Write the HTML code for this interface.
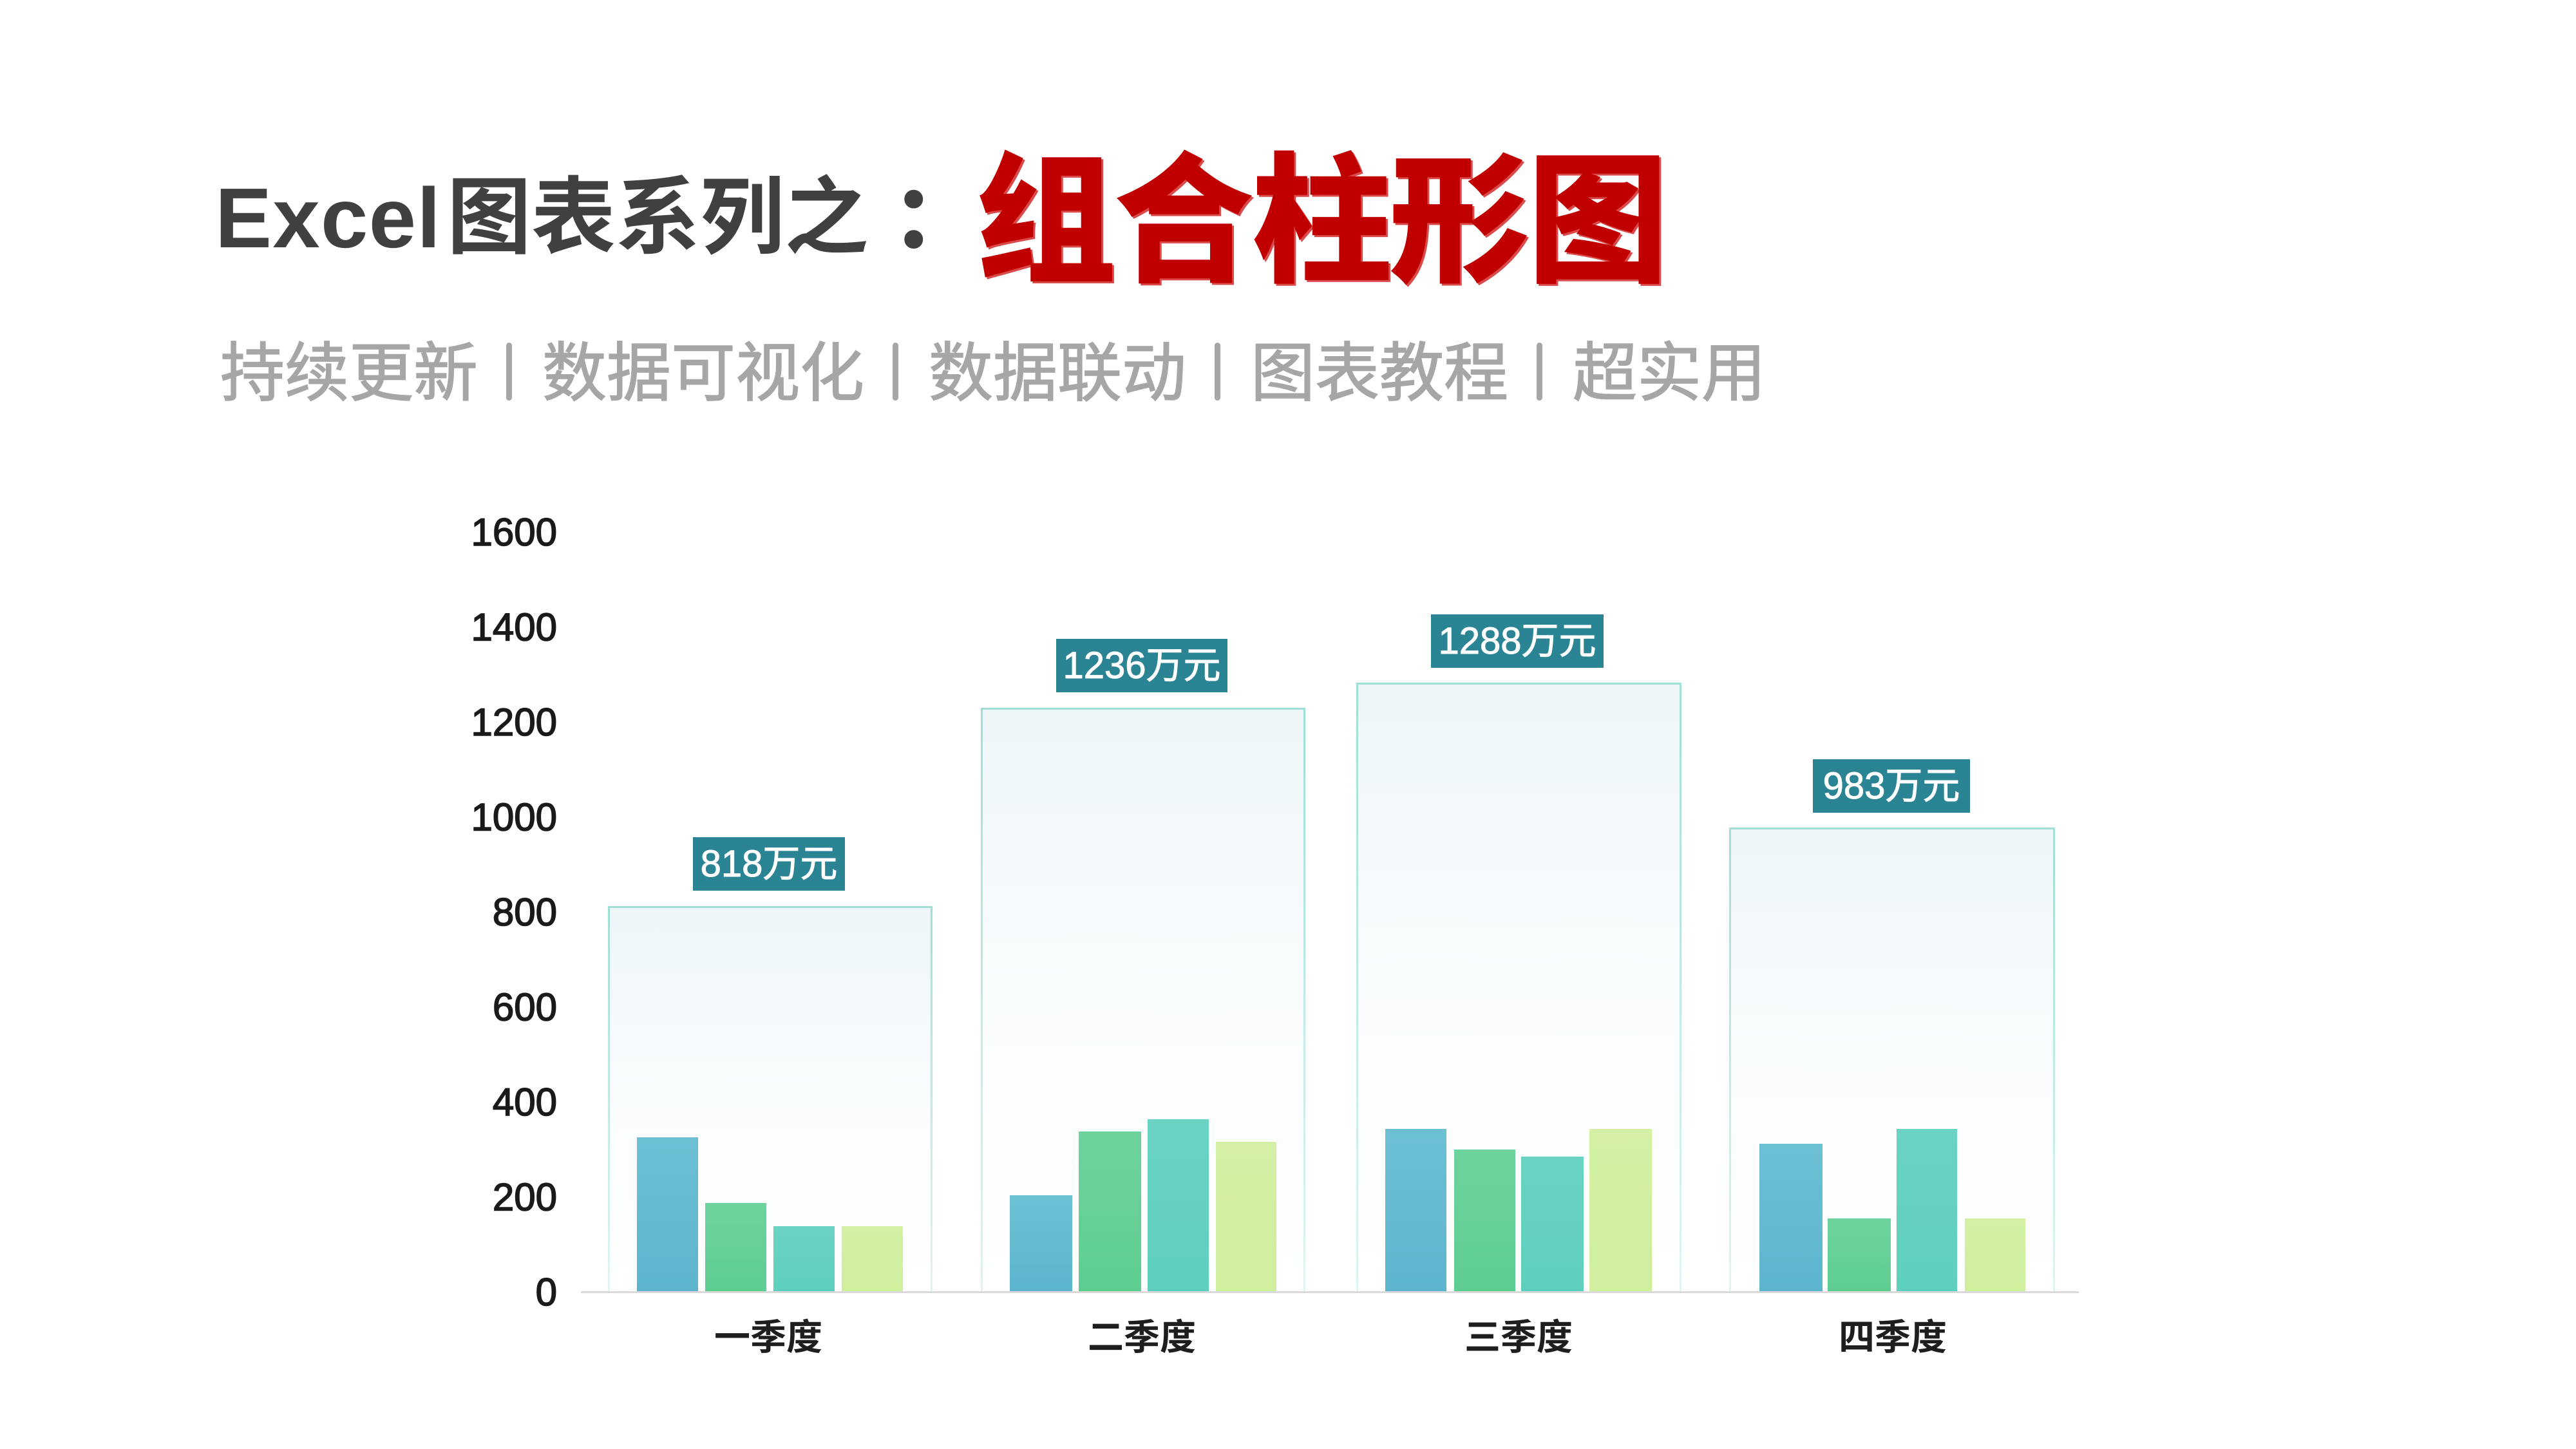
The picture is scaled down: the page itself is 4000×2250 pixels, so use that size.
<!DOCTYPE html>
<html>
<head>
<meta charset="utf-8">
<style>
  html, body { margin: 0; padding: 0; background: #ffffff; }
  body { width: 4000px; height: 2250px; overflow: hidden; position: relative; }
  svg { position: absolute; left: 0; top: 0; }
</style>
</head>
<body>
<svg width="4000" height="2250" viewBox="0 0 4000 2250" xmlns="http://www.w3.org/2000/svg">
  <defs>
    <linearGradient id="boxFill" x1="0" y1="0" x2="0" y2="1">
      <stop offset="0" stop-color="#eef6f9"/>
      <stop offset="0.6" stop-color="#fbfdfe"/>
      <stop offset="1" stop-color="#ffffff"/>
    </linearGradient>
    <linearGradient id="boxStroke" x1="0" y1="0" x2="0" y2="1">
      <stop offset="0" stop-color="#9fdfd5"/>
      <stop offset="1" stop-color="#e0f4f2"/>
    </linearGradient>
    <linearGradient id="gBlue" x1="0" y1="0" x2="0" y2="1">
      <stop offset="0" stop-color="#6dc0d4"/>
      <stop offset="1" stop-color="#5db4cd"/>
    </linearGradient>
    <linearGradient id="gGreen" x1="0" y1="0" x2="0" y2="1">
      <stop offset="0" stop-color="#6dd39d"/>
      <stop offset="1" stop-color="#5ecd91"/>
    </linearGradient>
    <linearGradient id="gTeal" x1="0" y1="0" x2="0" y2="1">
      <stop offset="0" stop-color="#6bd3c4"/>
      <stop offset="1" stop-color="#5ecfbd"/>
    </linearGradient>
    <linearGradient id="gLime" x1="0" y1="0" x2="0" y2="1">
      <stop offset="0" stop-color="#d3f0a4"/>
      <stop offset="1" stop-color="#cfee9e"/>
    </linearGradient>
  </defs>

  <!-- Title -->
  <text x="334" y="384" font-family="'Liberation Sans', sans-serif" font-weight="700" font-size="132" fill="#404040" textLength="350" lengthAdjust="spacing">Excel</text>
  <text x="694" y="383" font-family="'Liberation Sans', 'Noto Sans CJK SC', sans-serif" font-weight="700" font-size="131" fill="#404040" textLength="655" lengthAdjust="spacing">图表系列之</text>
  <text x="1386" y="383" font-family="'Liberation Sans', 'Noto Sans CJK SC', sans-serif" font-weight="700" font-size="131" fill="#404040" stroke="#404040" stroke-width="4">：</text>
  <text x="1518" y="423" font-family="'Liberation Sans', 'Noto Sans CJK SC', sans-serif" font-weight="900" font-size="218" fill="#d94a4a" textLength="1075" lengthAdjust="spacing">组合柱形图</text>
  <text x="1515" y="420" font-family="'Liberation Sans', 'Noto Sans CJK SC', sans-serif" font-weight="900" font-size="218" fill="#c00000" textLength="1075" lengthAdjust="spacing">组合柱形图</text>

  <!-- Subtitle -->
  <g font-family="'Liberation Sans', 'Noto Sans CJK SC', sans-serif" font-weight="400" font-size="100" fill="#a6a6a6" stroke="#a6a6a6" stroke-width="1.5">
    <text x="342" y="614">持续更新</text>
    <text x="842" y="614">数据可视化</text>
    <text x="1442" y="614">数据联动</text>
    <text x="1942" y="614">图表教程</text>
    <text x="2442" y="614">超实用</text>
  </g>
  <g fill="#a6a6a6">
    <rect x="786" y="532" width="9" height="90" rx="4.5"/>
    <rect x="1386" y="532" width="9" height="90" rx="4.5"/>
    <rect x="1886" y="532" width="9" height="90" rx="4.5"/>
    <rect x="2386" y="532" width="9" height="90" rx="4.5"/>
  </g>

  <!-- Y axis labels -->
  <g font-family="'Liberation Sans', sans-serif" font-size="60" fill="#1a1a1a" stroke="#1a1a1a" stroke-width="1.6" text-anchor="end">
    <text x="865" y="847">1600</text>
    <text x="865" y="994.5">1400</text>
    <text x="865" y="1142">1200</text>
    <text x="865" y="1289.5">1000</text>
    <text x="865" y="1437">800</text>
    <text x="865" y="1584.5">600</text>
    <text x="865" y="1732">400</text>
    <text x="865" y="1879.5">200</text>
    <text x="865" y="2027">0</text>
  </g>

  <!-- Total boxes -->
  <rect x="945.5" y="1408.5" width="501" height="598" fill="url(#boxFill)" stroke="url(#boxStroke)" stroke-width="3"/>
  <rect x="1524.5" y="1100.5" width="501" height="906" fill="url(#boxFill)" stroke="url(#boxStroke)" stroke-width="3"/>
  <rect x="2107.5" y="1061.5" width="502" height="945" fill="url(#boxFill)" stroke="url(#boxStroke)" stroke-width="3"/>
  <rect x="2686.5" y="1286.5" width="503" height="720" fill="url(#boxFill)" stroke="url(#boxStroke)" stroke-width="3"/>

  <!-- Bars Q1 -->
  <rect x="989" y="1766" width="95" height="240" fill="url(#gBlue)"/>
  <rect x="1095" y="1868" width="95" height="138" fill="url(#gGreen)"/>
  <rect x="1201" y="1904" width="95" height="102" fill="url(#gTeal)"/>
  <rect x="1307" y="1904" width="95" height="102" fill="url(#gLime)"/>

  <!-- Bars Q2 -->
  <rect x="1568" y="1856" width="97" height="150" fill="url(#gBlue)"/>
  <rect x="1675" y="1757" width="97" height="249" fill="url(#gGreen)"/>
  <rect x="1782" y="1738" width="95" height="268" fill="url(#gTeal)"/>
  <rect x="1888" y="1773" width="94" height="233" fill="url(#gLime)"/>

  <!-- Bars Q3 -->
  <rect x="2151" y="1753" width="95" height="253" fill="url(#gBlue)"/>
  <rect x="2258" y="1785" width="95" height="221" fill="url(#gGreen)"/>
  <rect x="2362" y="1796" width="97" height="210" fill="url(#gTeal)"/>
  <rect x="2468" y="1753" width="97" height="253" fill="url(#gLime)"/>

  <!-- Bars Q4 -->
  <rect x="2732" y="1776" width="98" height="230" fill="url(#gBlue)"/>
  <rect x="2838" y="1892" width="98" height="114" fill="url(#gGreen)"/>
  <rect x="2945" y="1753" width="94" height="253" fill="url(#gTeal)"/>
  <rect x="3051" y="1892" width="94" height="114" fill="url(#gLime)"/>

  <!-- X axis -->
  <rect x="902" y="2005" width="2326" height="3" fill="#d9d9d9"/>

  <!-- X labels -->
  <g font-family="'Liberation Sans', 'Noto Sans CJK SC', sans-serif" font-weight="700" font-size="56" fill="#1e1e1e" text-anchor="middle">
    <text x="1193" y="2096">一季度</text>
    <text x="1773" y="2096">二季度</text>
    <text x="2358" y="2096">三季度</text>
    <text x="2939" y="2096">四季度</text>
  </g>

  <!-- Value labels -->
  <rect x="1076" y="1300" width="236" height="83" fill="#2a8494"/>
  <rect x="1640" y="992" width="266" height="83" fill="#2a8494"/>
  <rect x="2222" y="954" width="268" height="83" fill="#2a8494"/>
  <rect x="2815" y="1179" width="244" height="83" fill="#2a8494"/>
  <g font-family="'Liberation Sans', 'Noto Sans CJK SC', sans-serif" font-size="58" fill="#ffffff" stroke="#ffffff" stroke-width="1" text-anchor="middle">
    <text x="1194" y="1361">818万元</text>
    <text x="1773" y="1053">1236万元</text>
    <text x="2356" y="1015">1288万元</text>
    <text x="2937" y="1240">983万元</text>
  </g>
</svg>
</body>
</html>
